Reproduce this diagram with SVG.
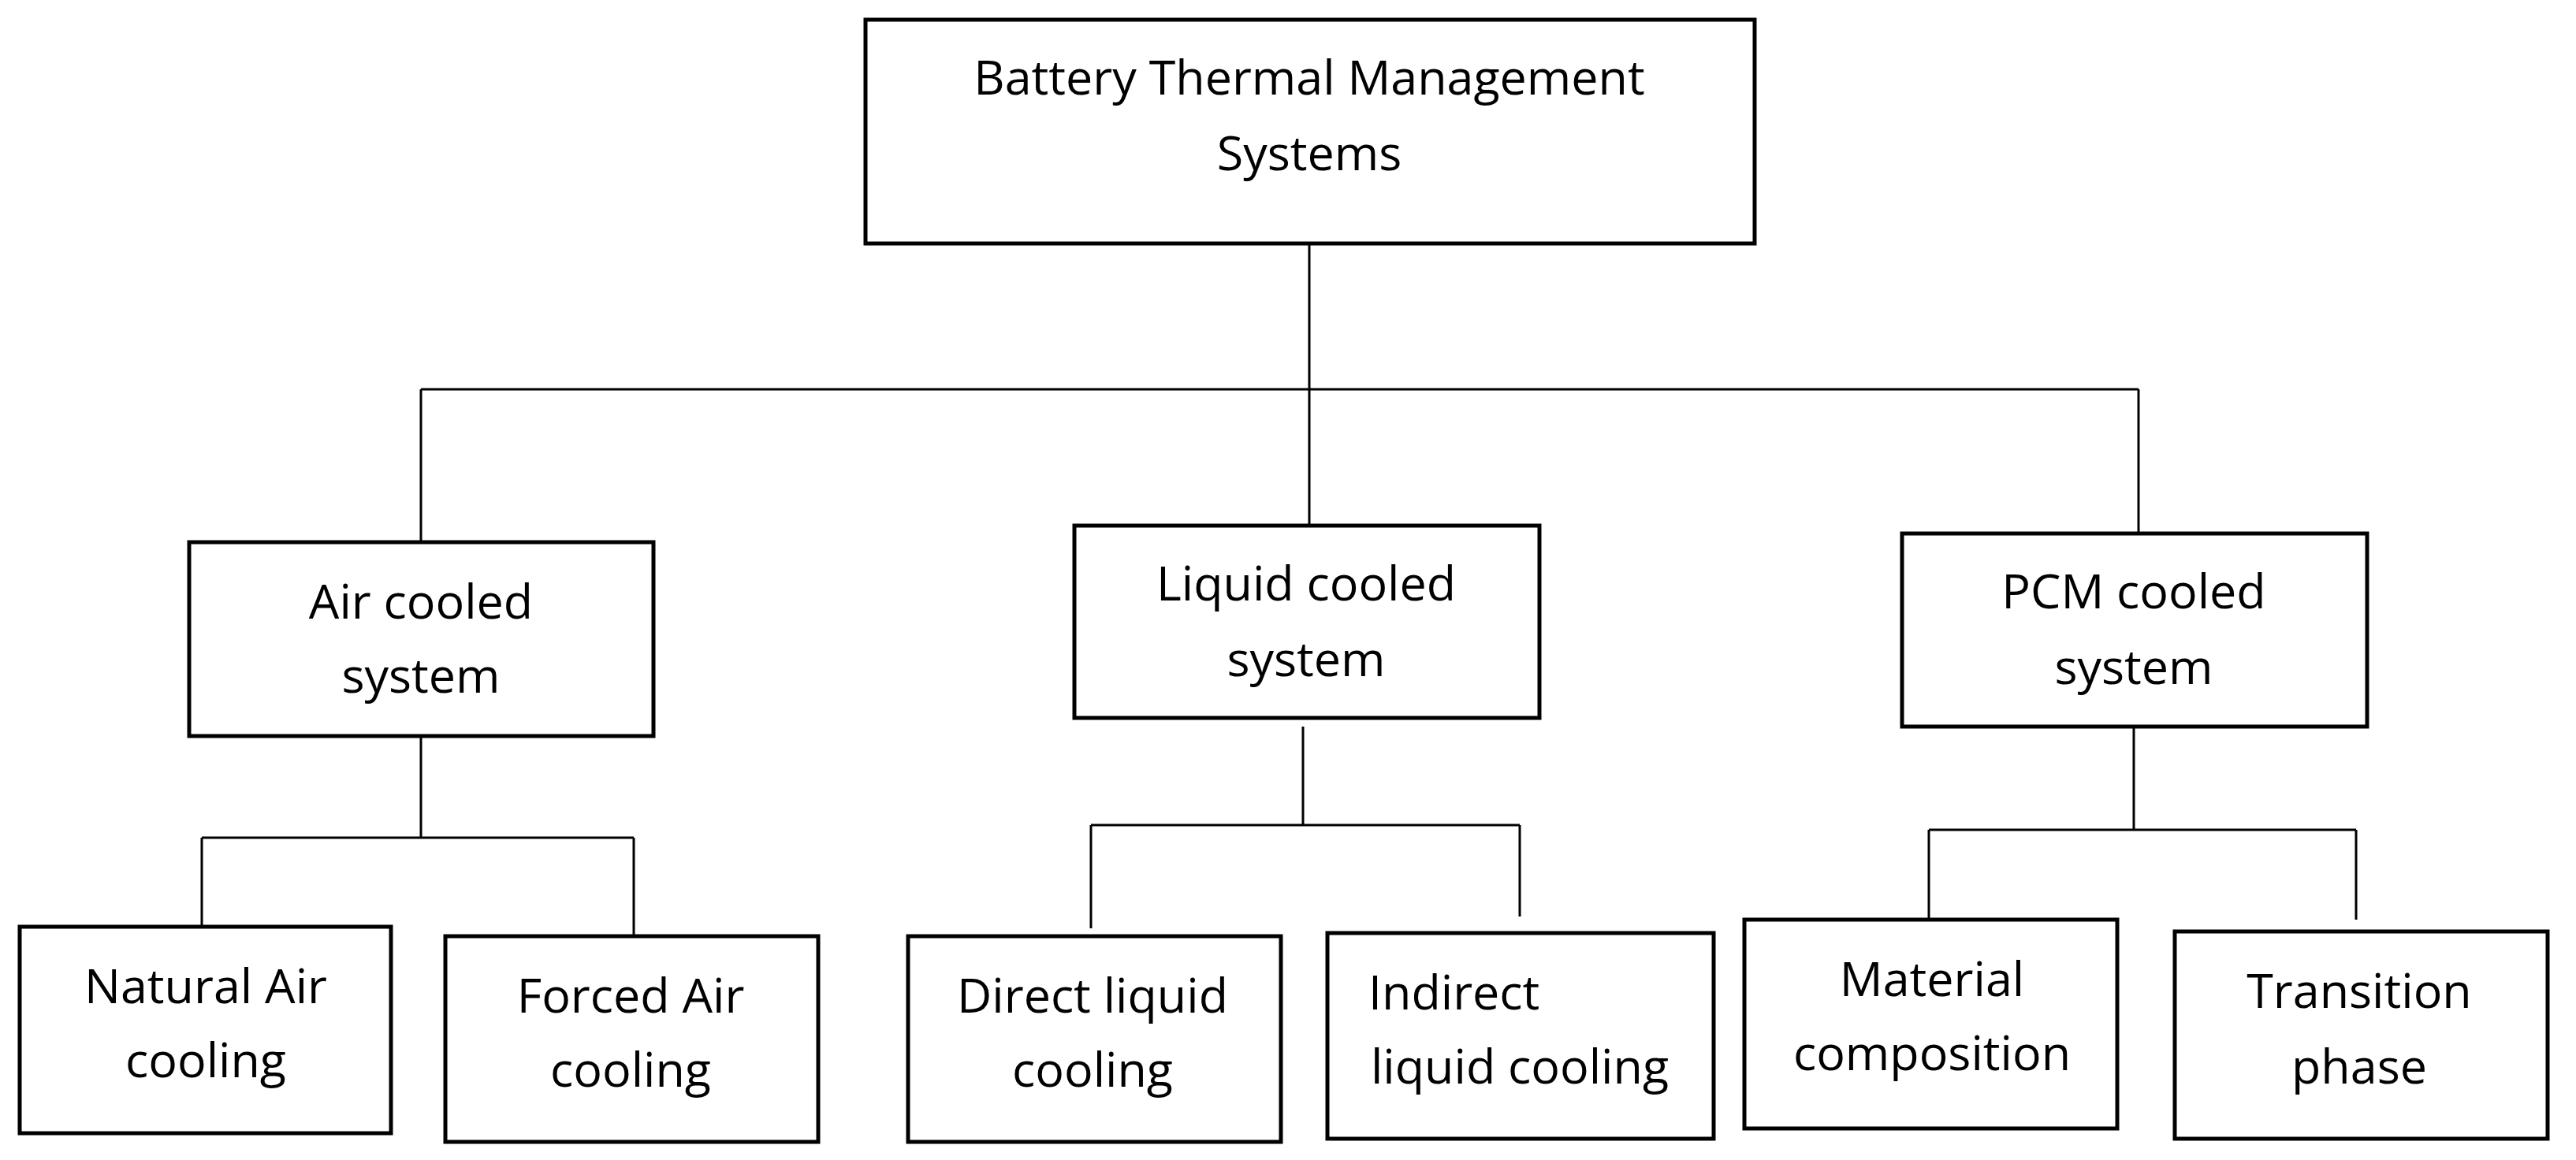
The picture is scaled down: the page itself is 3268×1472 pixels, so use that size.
<svg xmlns="http://www.w3.org/2000/svg" width="3268" height="1472" viewBox="0 0 3268 1472">
<style>
.box{fill:#fff;stroke:#000;stroke-width:5}
.ln{fill:none;stroke:#000;stroke-width:3}
text{font-family:"Open Sans","Liberation Sans",sans-serif;font-size:61px;fill:#000;text-anchor:middle;dominant-baseline:central}
</style>
<rect width="3268" height="1472" fill="#fff"/>
<g id="connectors">
<path class="ln" d="M1661 309V494M534 494H2713M534 494V688M1661 494V667M2713 494V677"/>
<path class="ln" d="M534 934V1063M256 1063H804M256 1063V1178M804 1063V1188"/>
<path class="ln" d="M1653 922V1047M1384 1047H1928M1384 1047V1178M1928 1047V1163"/>
<path class="ln" d="M2707 922V1053M2447 1053H2989M2447 1053V1167M2989 1053V1167"/>
</g>
<g id="root"><rect class="box" x="1098" y="25" width="1128" height="284"/><text x="1661" y="96">Battery Thermal Management</text><text x="1661" y="192">Systems</text></g>
<g id="air"><rect class="box" x="240" y="688" width="589" height="246"/><text x="534" y="761">Air cooled</text><text x="534" y="855">system</text></g>
<g id="liquid"><rect class="box" x="1363" y="667" width="590" height="244"/><text x="1657" y="738">Liquid cooled</text><text x="1657" y="834">system</text></g>
<g id="pcm"><rect class="box" x="2413" y="677" width="590" height="245"/><text x="2707" y="748">PCM cooled</text><text x="2707" y="844">system</text></g>
<g id="natural"><rect class="box" x="25" y="1176" width="471" height="262"/><text x="261" y="1249">Natural Air</text><text x="261" y="1343">cooling</text></g>
<g id="forced"><rect class="box" x="565" y="1188" width="473" height="261"/><text x="800" y="1261">Forced Air</text><text x="800" y="1355">cooling</text></g>
<g id="direct"><rect class="box" x="1152" y="1188" width="473" height="261"/><text x="1386" y="1261">Direct liquid</text><text x="1386" y="1355">cooling</text></g>
<g id="indirect"><rect class="box" x="1684" y="1184" width="490" height="261"/><text x="1736" y="1257" style="text-anchor:start">Indirect</text><text x="1928" y="1351">liquid cooling</text></g>
<g id="material"><rect class="box" x="2213" y="1167" width="473" height="265"/><text x="2451" y="1240">Material</text><text x="2451" y="1334">composition</text></g>
<g id="transition"><rect class="box" x="2759" y="1182" width="473" height="263"/><text x="2993" y="1255">Transition</text><text x="2993" y="1351">phase</text></g>
</svg>
